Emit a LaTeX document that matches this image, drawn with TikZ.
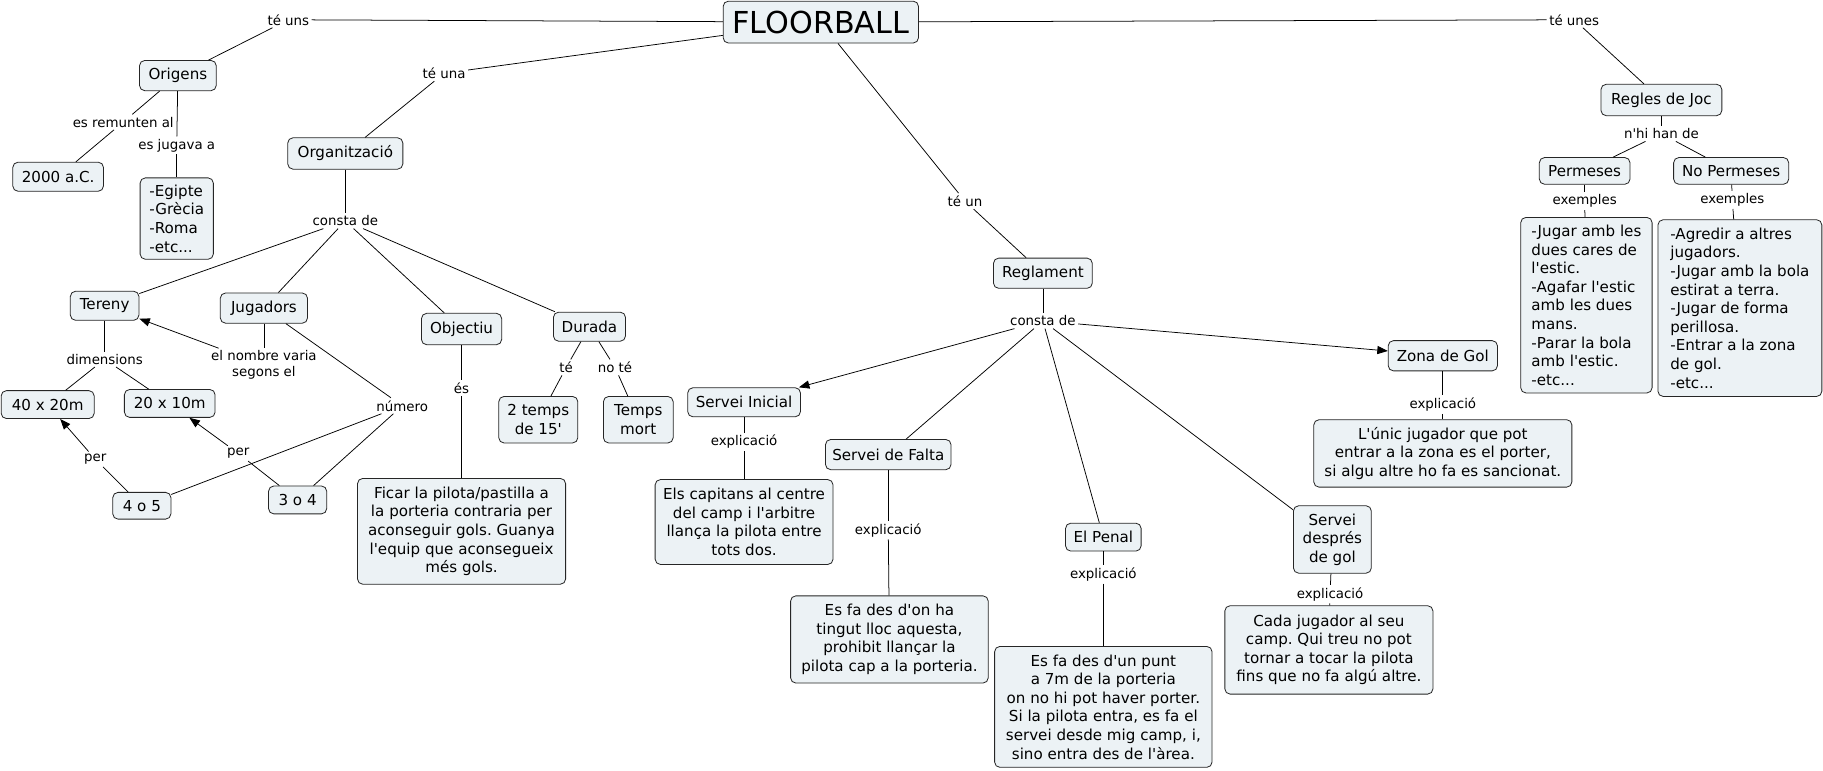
\documentclass[tikz,border=0pt]{standalone}
\usepackage{fontspec}
\setmainfont{DejaVu Sans}[Ligatures=TeXOff]
\usetikzlibrary{arrows.meta}
\definecolor{cfill}{RGB}{236,242,245}
\newcommand\cfnt{\fontsize{13}{16}\selectfont}
\newcommand\lfnt{\fontsize{11.5}{13.5}\selectfont}
\frenchspacing
\begin{document}
\frenchspacing
\begin{tikzpicture}[x=1pt,y=-1pt,
  concept/.style={draw=black!85, fill=cfill, rounded corners=4.5pt, line width=0.7pt, font=\cfnt\frenchspacing, inner sep=2pt, align=center},
  lbl/.style={font=\lfnt, inner sep=2pt, align=center},
  conn/.style={line width=0.65pt},
  arr/.style={conn, -{Triangle[length=9pt,width=7pt]}}]
\useasboundingbox[fill=white] (0,0) rectangle (1568,663);

% concepts
\node[concept, font=\fontsize{26}{30}\selectfont, minimum width=168, minimum height=36] (fb) at (706,19) {FLOORBALL};
\node[concept, minimum width=66, minimum height=26] (orig) at (153,65) {Origens};
\node[concept, minimum width=78, minimum height=25] (ac) at (50,152) {2000 a.C.};
\node[concept, minimum width=63, minimum height=70, align=left] (egi) at (152,188) {-Egipte\\-Grècia\\-Roma\\-etc...};
\node[concept, minimum width=99, minimum height=27] (org) at (297,132) {Organització};
\node[concept, minimum width=59, minimum height=25] (ter) at (90,263) {Tereny};
\node[concept, minimum width=75, minimum height=26] (jug) at (227,265) {Jugadors};
\node[concept, minimum width=69, minimum height=27] (obj) at (397,283) {Objectiu};
\node[concept, minimum width=62, minimum height=25] (dur) at (507,281) {Durada};
\node[concept, minimum width=80, minimum height=24] (d40) at (41,348) {40 x 20m};
\node[concept, minimum width=78, minimum height=24] (d20) at (146,347) {20 x 10m};
\node[concept, minimum width=50, minimum height=23] (n45) at (122,435) {4 o 5};
\node[concept, minimum width=50, minimum height=24] (n34) at (256,430) {3 o 4};
\node[concept, minimum width=179, minimum height=91] (fic) at (397,457) {Ficar la pilota/pastilla a\\la porteria contraria per\\aconseguir gols. Guanya\\l'equip que aconsegueix\\més gols.};
\node[concept, minimum width=68, minimum height=40] (t15) at (463,361) {2 temps\\de 15'};
\node[concept, minimum width=60, minimum height=40] (tm) at (549,361) {Temps\\mort};
\node[concept, minimum width=85, minimum height=26] (reg) at (897,235) {Reglament};
\node[concept, minimum width=97, minimum height=25] (si) at (640,346) {Servei Inicial};
\node[concept, minimum width=108, minimum height=26] (sf) at (764,391) {Servei de Falta};
\node[concept, minimum width=65, minimum height=24] (ep) at (949,462) {El Penal};
\node[concept, minimum width=67, minimum height=58] (sd) at (1146,464) {Servei\\després\\de gol};
\node[concept, minimum width=94, minimum height=26] (zg) at (1241,306) {Zona de Gol};
\node[concept, minimum width=222, minimum height=58] (zgx) at (1241,390) {L'únic jugador que pot\\entrar a la zona es el porter,\\si algu altre ho fa es sancionat.};
\node[concept, minimum width=153, minimum height=73] (six) at (640,449) {Els capitans al centre\\del camp i l'arbitre\\llança la pilota entre\\tots dos.};
\node[concept, minimum width=170, minimum height=75] (sfx) at (765,550) {Es fa des d'on ha\\tingut lloc aquesta,\\prohibit llançar la\\pilota cap a la porteria.};
\node[concept, minimum width=187, minimum height=104] (epx) at (949,608) {Es fa des d'un punt\\a 7m de la porteria\\on no hi pot haver porter.\\Si la pilota entra, es fa el\\servei desde mig camp, i,\\sino entra des de l'àrea.};
\node[concept, minimum width=179, minimum height=76] (sdx) at (1143,559) {Cada jugador al seu\\camp. Qui treu no pot\\tornar a tocar la pilota\\fins que no fa algú altre.};
\node[concept, minimum width=104, minimum height=27] (rj) at (1429,86) {Regles de Joc};
\node[concept, minimum width=78, minimum height=23] (per) at (1363,147) {Permeses};
\node[concept, minimum width=99, minimum height=23] (nper) at (1489,147) {No Permeses};
\node[concept, minimum width=113, minimum height=151, align=left] (perx) at (1364.5,262.5) {-Jugar amb les\\dues cares de\\l'estic.\\-Agafar l'estic\\amb les dues\\mans.\\-Parar la bola\\amb l'estic.\\-etc...};
\node[concept, minimum width=141, minimum height=152, align=left] (nperx) at (1496.5,265) {-Agredir a altres\\jugadors.\\-Jugar amb la bola\\estirat a terra.\\-Jugar de forma\\perillosa.\\-Entrar a la zona\\de gol.\\-etc...};

% link labels
\node[lbl] (ltuns) at (248,17) {té uns};
\node[lbl] (lrem) at (106,105) {es remunten al};
\node[lbl] (ljug) at (152,125) {es jugava a};
\node[lbl] (ltuna) at (382,63) {té una};
\node[lbl] (lcl) at (297,190) {consta de};
\node[lbl] (ldim) at (90,309) {dimensions};
\node[lbl] (lnom) at (227,314) {el nombre varia\\segons el};
\node[lbl] (lnum) at (346,349) {número};
\node[lbl] (lpl) at (82,395) {per};
\node[lbl] (lpr) at (205,390) {per};
\node[lbl] (les) at (397,334) {és};
\node[lbl] (lte) at (487,316) {té};
\node[lbl] (lnte) at (529,316) {no té};
\node[lbl] (ltun) at (830,173) {té un};
\node[lbl] (lcr) at (897,276) {consta de};
\node[lbl] (lxsi) at (640,380) {explicació};
\node[lbl] (lxsf) at (764,456) {explicació};
\node[lbl] (lxep) at (949,494) {explicació};
\node[lbl] (lxsd) at (1144,511) {explicació};
\node[lbl] (lxzg) at (1241,348) {explicació};
\node[lbl] (ltunes) at (1354,17) {té unes};
\node[lbl] (lnhi) at (1429,115) {n'hi han de};
\node[lbl] (lexl) at (1363,173) {exemples};
\node[lbl] (lexr) at (1490,172) {exemples};

% connectors
\draw[conn] (fb) -- (ltuns);
\draw[conn] (ltuns) -- (orig);
\draw[conn] (orig) -- (lrem);
\draw[conn] (lrem) -- (ac);
\draw[conn] (orig) -- (ljug);
\draw[conn] (ljug) -- (egi);
\draw[conn] (fb) -- (ltuna);
\draw[conn] (ltuna) -- (org);
\draw[conn] (org) -- (lcl);
\draw[conn] (lcl) -- (ter);
\draw[conn] (lcl) -- (jug);
\draw[conn] (lcl) -- (obj);
\draw[conn] (lcl) -- (dur);
\draw[conn] (ter) -- (ldim);
\draw[conn] (ldim) -- (d40);
\draw[conn] (ldim) -- (d20);
\draw[conn] (jug) -- (lnom);
\draw[arr] (lnom) -- (ter);
\draw[conn] (jug) -- (lnum);
\draw[conn] (lnum) -- (n45);
\draw[conn] (lnum) -- (n34);
\draw[conn] (n45) -- (lpl);
\draw[arr] (lpl) -- (d40);
\draw[conn] (n34) -- (lpr);
\draw[arr] (lpr) -- (d20);
\draw[conn] (obj) -- (les);
\draw[conn] (les) -- (fic);
\draw[conn] (dur) -- (lte);
\draw[conn] (lte) -- (t15);
\draw[conn] (dur) -- (lnte);
\draw[conn] (lnte) -- (tm);
\draw[conn] (fb) -- (ltun);
\draw[conn] (ltun) -- (reg);
\draw[conn] (reg) -- (lcr);
\draw[arr] (lcr) -- (si);
\draw[conn] (lcr) -- (sf);
\draw[conn] (lcr) -- (ep);
\draw[conn] (lcr) -- (sd);
\draw[arr] (lcr) -- (zg);
\draw[conn] (si) -- (lxsi);
\draw[conn] (lxsi) -- (six);
\draw[conn] (sf) -- (lxsf);
\draw[conn] (lxsf) -- (sfx);
\draw[conn] (ep) -- (lxep);
\draw[conn] (lxep) -- (epx);
\draw[conn] (sd) -- (lxsd);
\draw[conn] (lxsd) -- (sdx);
\draw[conn] (zg) -- (lxzg);
\draw[conn] (lxzg) -- (zgx);
\draw[conn] (fb) -- (ltunes);
\draw[conn] (ltunes) -- (rj);
\draw[conn] (rj) -- (lnhi);
\draw[conn] (lnhi) -- (per);
\draw[conn] (lnhi) -- (nper);
\draw[conn] (per) -- (lexl);
\draw[conn] (lexl) -- (perx);
\draw[conn] (nper) -- (lexr);
\draw[conn] (lexr) -- (nperx);
\end{tikzpicture}
\end{document}
